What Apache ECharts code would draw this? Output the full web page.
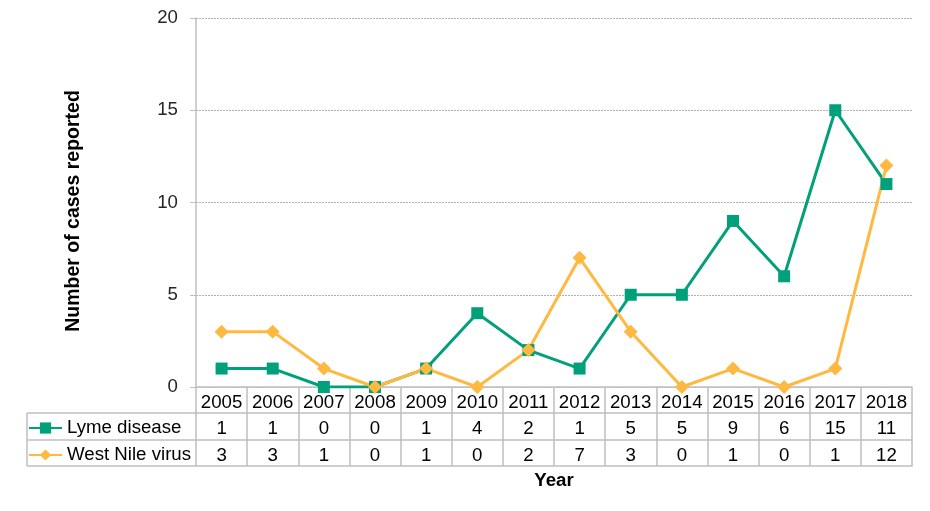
<!DOCTYPE html>
<html>
<head>
<meta charset="utf-8">
<script src="https://cdn.jsdelivr.net/npm/echarts@6/dist/echarts.min.js"></script>
<style>html,body{margin:0;padding:0;background:#fff;}#c{width:930px;height:511px;}</style>
</head>
<body>
<div id="c"></div>
<script>
const years = ['2005','2006','2007','2008','2009','2010','2011','2012','2013','2014','2015','2016','2017','2018'];
const lyme = [1, 1, 0, 0, 1, 4, 2, 1, 5, 5, 9, 6, 15, 11];
const westNile = [3, 3, 1, 0, 1, 0, 2, 7, 3, 0, 1, 0, 1, 12];
const yTicks = [0, 5, 10, 15, 20];

const GREEN = '#00a07a';
const ORANGE = '#ffb940';
const LINE = '#bfbfbf';
const FONT = 'Liberation Sans, Arial, sans-serif';
const FS = 18.67;

const G_LEFT = 196, G_RIGHT = 18, G_TOP = 18, G_BOTTOM = 124;
const ROW = [387, 413, 440, 466];
const TABLE_LEFT = 27;

function tableAxis(offset, tickLen, labels, showTick) {
  return {
    type: 'category', data: years, position: 'bottom', offset: offset,
    boundaryGap: true,
    axisLine: { show: true, lineStyle: { color: LINE, width: 1.5 } },
    axisTick: { show: showTick, length: tickLen, interval: 0, lineStyle: { color: LINE, width: 1.5 } },
    axisLabel: {
      show: !!labels, interval: 0, margin: 6, color: '#000', fontSize: FS, fontFamily: FONT,
      formatter: labels ? (v, i) => String(labels[i]) : undefined
    },
    splitLine: { show: false }
  };
}

const chart = echarts.init(document.getElementById('c'));
const xA0 = tableAxis(0, ROW[1] - ROW[0], years, true);
xA0.name = 'Year';
xA0.nameLocation = 'middle';
xA0.nameGap = 84;
xA0.nameTextStyle = { fontSize: FS, fontWeight: 'bold', color: '#000', fontFamily: FONT };

chart.setOption({
  animation: false,
  textStyle: { fontFamily: FONT },
  grid: { left: G_LEFT, right: G_RIGHT, top: G_TOP, bottom: G_BOTTOM, containLabel: false },
  legend: {
    orient: 'vertical', left: TABLE_LEFT + 1, top: 418, padding: 0,
    itemWidth: 33, itemHeight: 14, itemGap: 7,
    textStyle: { fontSize: FS, color: '#000', fontFamily: FONT, lineHeight: 20 },
    data: ['Lyme disease', 'West Nile virus']
  },
  xAxis: [
    xA0,
    tableAxis(ROW[1] - ROW[0], ROW[2] - ROW[1], lyme, true),
    tableAxis(ROW[2] - ROW[0], ROW[3] - ROW[2], westNile, true),
    tableAxis(ROW[3] - ROW[0], 0, null, false)
  ],
  yAxis: {
    type: 'value', min: yTicks[0], max: yTicks[yTicks.length - 1], interval: yTicks[1] - yTicks[0],
    name: 'Number of cases reported', nameLocation: 'middle', nameRotate: 90, nameGap: 112,
    nameTextStyle: { fontSize: 19.5, fontWeight: 'bold', color: '#000', fontFamily: FONT, padding: [0, 17, 0, 0] },
    axisLine: { show: true, lineStyle: { color: LINE, width: 1.5 } },
    axisTick: { show: true, length: 6, lineStyle: { color: LINE, width: 1 } },
    axisLabel: { fontSize: FS, color: '#262626', margin: 18, fontFamily: FONT },
    splitLine: { show: true, lineStyle: { color: '#b0b0b0', type: [2, 1], width: 1 } }
  },
  series: [
    {
      name: 'Lyme disease', type: 'line', xAxisIndex: 0, data: lyme,
      symbol: 'rect', symbolSize: 12,
      itemStyle: { color: GREEN }, lineStyle: { color: GREEN, width: 3 }
    },
    {
      name: 'West Nile virus', type: 'line', xAxisIndex: 0, data: westNile,
      symbol: 'diamond', symbolSize: 14,
      itemStyle: { color: ORANGE }, lineStyle: { color: ORANGE, width: 3 }
    }
  ],
  graphic: [
    { type: 'line', shape: { x1: TABLE_LEFT, y1: ROW[1], x2: G_LEFT, y2: ROW[1] }, style: { stroke: LINE, lineWidth: 1.5 } },
    { type: 'line', shape: { x1: TABLE_LEFT, y1: ROW[2], x2: G_LEFT, y2: ROW[2] }, style: { stroke: LINE, lineWidth: 1.5 } },
    { type: 'line', shape: { x1: TABLE_LEFT, y1: ROW[3], x2: G_LEFT, y2: ROW[3] }, style: { stroke: LINE, lineWidth: 1.5 } },
    { type: 'line', shape: { x1: TABLE_LEFT, y1: ROW[1], x2: TABLE_LEFT, y2: ROW[3] }, style: { stroke: LINE, lineWidth: 1.5 } }
  ]
});
</script>
</body>
</html>
